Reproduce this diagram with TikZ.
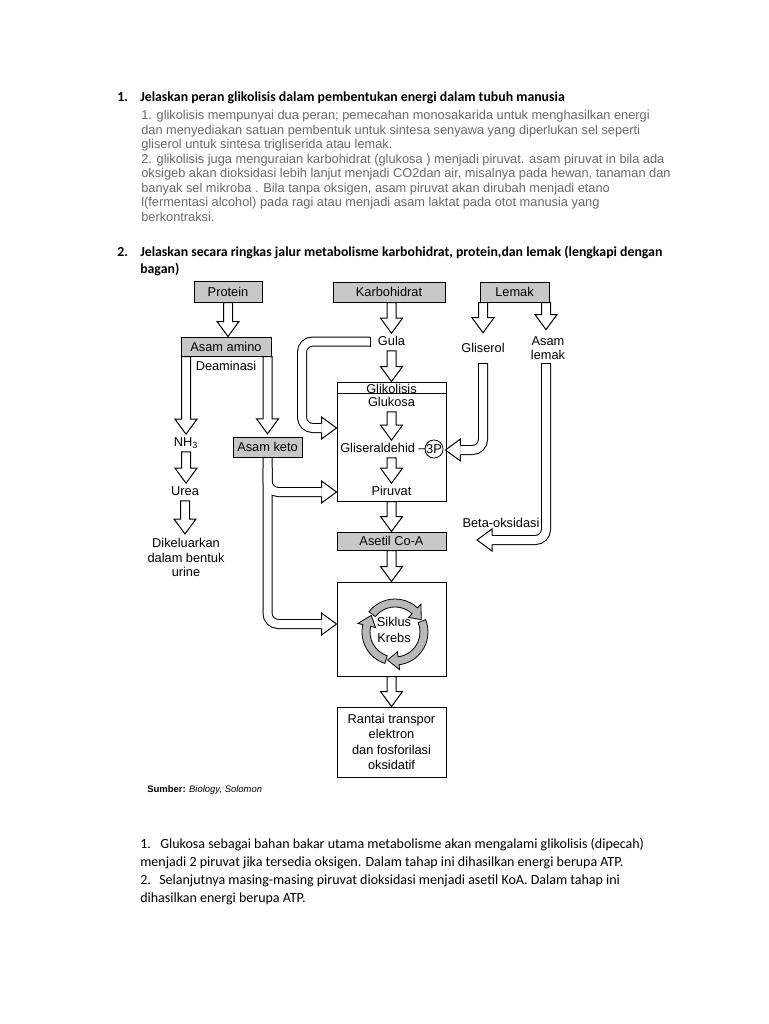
\documentclass[tikz,border=0pt]{standalone}
\usepackage{fontspec}
\setmainfont{Liberation Sans}
\newfontfamily\calfont{Carlito}
\usetikzlibrary{calc}
\pgfdeclarelayer{bg}
\pgfsetlayers{bg,main}
\definecolor{graytext}{RGB}{105,105,105}
\definecolor{boxgray}{RGB}{200,200,200}
\definecolor{ringgray}{RGB}{185,185,185}
\newcommand\parafont{\fontsize{9.6}{10.5}\selectfont}
\newcommand\hdfont{\calfont\bfseries\fontsize{10.35}{13}\selectfont}
\newcommand\bodyfont{\calfont\fontsize{10.5}{13}\selectfont}
\newcommand\labfont{\fontsize{9.6}{11}\selectfont}
% vertical hollow arrow: x and start y from #1, tip y from #2
\newcommand\vharrow[2]{%
  \filldraw[blockarrow] let \p1=#1, \p2=#2 in
   (\x1-3.375pt,\y1) -- (\x1-3.375pt,\y2+11.25pt) -- (\x1-8.25pt,\y2+11.25pt) -- (\x1,\y2)
   -- (\x1+8.25pt,\y2+11.25pt) -- (\x1+3.375pt,\y2+11.25pt) -- (\x1+3.375pt,\y1) -- cycle;}
% right pointing head with tip #1
\newcommand\rhead[1]{%
  \filldraw[blockarrow] let \p1=#1 in
   (\x1-11.25pt,\y1+3.375pt) -- (\x1-11.25pt,\y1+8.25pt) -- (\x1,\y1)
   -- (\x1-11.25pt,\y1-8.25pt) -- (\x1-11.25pt,\y1-3.375pt);}
% left pointing head with tip #1
\newcommand\lhead[1]{%
  \filldraw[blockarrow] let \p1=#1 in
   (\x1+11.25pt,\y1+3.375pt) -- (\x1+11.25pt,\y1+8.25pt) -- (\x1,\y1)
   -- (\x1+11.25pt,\y1-8.25pt) -- (\x1+11.25pt,\y1-3.375pt);}
\begin{document}
\begin{tikzpicture}[x=0.75pt,y=-0.75pt,
  blockarrow/.style={draw=black,fill=white,line width=0.75pt,line join=miter},
  gbox/.style={draw=black,fill=boxgray,line width=0.75pt,inner sep=0pt,font=\labfont},
  wbox/.style={draw=black,fill=white,line width=0.75pt,inner sep=0pt,font=\labfont},
  lbl/.style={inner xsep=0pt,inner ysep=1.9pt,font=\labfont,text height=7pt,text depth=2pt},
  mlbl/.style={inner sep=0pt,font=\labfont,align=center},
  para/.style={inner sep=0pt,anchor=base west,font=\parafont,text=graytext},
  hd/.style={inner sep=0pt,anchor=base west,font=\hdfont},
  body/.style={inner sep=0pt,anchor=base west,font=\bodyfont},
  bandout/.style={line width=7.5pt,rounded corners=8pt},
  bandin/.style={line width=6pt,white,rounded corners=8pt},
  ring/.style={fill=ringgray,draw=black,line width=0.6pt,line join=miter}]
\useasboundingbox (0,0) rectangle (768,1024);
\begin{pgfonlayer}{bg}
  \fill[white] (0,0) rectangle (768,1024);
\end{pgfonlayer}

% ---------- question 1 ----------
\node[hd] (q1n) at (117,101) {1.};
\node[hd] (q1) at (140,101) {Jelaskan peran glikolisis dalam pembentukan energi dalam tubuh manusia};
\node[para] (p1) at (141,119.5) {1. glikolisis mempunyai dua peran; pemecahan monosakarida untuk menghasilkan energi};
\node[para] (p2) at (141,134) {dan menyediakan satuan pembentuk untuk sintesa senyawa yang diperlukan sel seperti};
\node[para] (p3l) at (141,148.5) {gliserol untuk sintesa trigliserida atau lemak.};
\node[para] (p4) at (141,163) {2. glikolisis juga menguraian karbohidrat (glukosa ) menjadi piruvat. asam piruvat in bila ada};
\node[para] (p5) at (141,177.5) {oksigeb akan dioksidasi lebih lanjut menjadi CO2dan air, misalnya pada hewan, tanaman dan};
\node[para] (p6) at (141,192) {banyak sel mikroba . Bila tanpa oksigen, asam piruvat akan dirubah menjadi etano};
\node[para] (p7) at (141,206.5) {l(fermentasi alcohol) pada ragi atau menjadi asam laktat pada otot manusia yang};
\node[para] (p8) at (141,221) {berkontraksi.};

% ---------- question 2 ----------
\node[hd] (q2n) at (117,256) {2.};
\node[hd] (q2) at (140,256) {Jelaskan secara ringkas jalur metabolisme karbohidrat, protein,dan lemak (lengkapi dengan};
\node[hd] (q2b) at (140,273) {bagan)};

% ---------- diagram boxes ----------
\node[gbox,minimum width=51pt,minimum height=15.75pt] (protein) at (228,291.5) {Protein};
\node[gbox,minimum width=84pt,minimum height=15pt] (karbo) at (389,292) {Karbohidrat};
\node[gbox,minimum width=51.75pt,minimum height=15pt] (lemak) at (514.5,292) {Lemak};
\node[gbox,minimum width=67.5pt,minimum height=14.25pt] (amino) at (226,346.5) {Asam amino};
\node[gbox,minimum width=51.75pt,minimum height=15pt] (keto) at (267.5,447) {Asam keto};
\node[wbox,minimum width=81.75pt,minimum height=89.25pt] (glik) at (391.5,441.5) {};
\node[gbox,minimum width=81.75pt,minimum height=13.5pt] (asetil) at (391.5,541) {Asetil Co-A};
\node[wbox,minimum width=81.75pt,minimum height=70.5pt] (krebs) at (391.5,629) {};
\node[wbox,minimum width=81.75pt,minimum height=52.5pt,align=center,
      font=\fontsize{9.6}{11.6}\selectfont] (rantai) at (391.5,742)
      {Rantai transpor\\elektron\\dan fosforilasi\\oksidatif};
\draw[line width=0.75pt] ([yshift=-9pt]glik.north west) -- ([yshift=-9pt]glik.north east);

% ---------- Krebs ring ----------
\begin{scope}[shift={(395,632)}]
  \foreach \a/\b in {218/335,338/465,108/215}{
    \filldraw[ring] (\a:33) arc[start angle=\a,end angle=\b-22,radius=33]
      -- (\b-22:38) -- (\b:29) -- (\b-22:20) -- (\b-22:25)
      arc[start angle=\b-22,end angle=\a,radius=25] -- cycle;
  }
\end{scope}

% ---------- labels ----------
\node[lbl] (gula) at (391.5,342) {Gula};
\node[lbl] (gliserol) at (483,349) {Gliserol};
\node[mlbl,font=\fontsize{9.6}{10.5}\selectfont] (asamlemak) at (548,348) {Asam\\lemak};
\node[lbl] (deam) at (226,367) {Deaminasi};
\node[lbl] (nh3) at (186,443) {NH\textsubscript{3}};
\node[lbl] (urea) at (185,492) {Urea};
\node[mlbl,font=\fontsize{9.6}{10.9}\selectfont] (dikel) at (186,557.5) {Dikeluarkan\\dalam bentuk\\urine};
\node[inner sep=0pt,font=\labfont,anchor=base] (glikhd) at (391.5,393) {Glikolisis};
\node[lbl] (gluk) at (391.5,403) {Glukosa};
\node[lbl,anchor=west] (glis) at (340,449) {Gliseraldehid --};
\node[draw,circle,line width=0.6pt,minimum size=13.5pt,inner sep=0pt,font=\labfont] (p3) at (434,449) {3P};
\node[lbl] (piruvat) at (391.5,492) {Piruvat};
\node[lbl] (beta) at (501,524) {Beta-oksidasi};
\node[mlbl,font=\fontsize{9.6}{11.4}\selectfont] (kreb) at (394,630) {Siklus\\Krebs};
\coordinate (betatip) at (477,540);
\node[inner sep=0pt,anchor=base west,font=\fontsize{7.1}{8}\selectfont] (sumber) at (147,792)
  {\textbf{Sumber:} \textit{Biology, Solomon}};

% ---------- curved hollow connectors (background) ----------
\begin{pgfonlayer}{bg}
\foreach \st in {bandout,bandin}{
  \draw[\st] (370,341.5) -- (302,341.5) -- (302,428) -- ($(glik.west |- 0,428)+(-15,0)$);
  \draw[\st] (gliserol |- 0,363) -- (gliserol |- 0,450) -- ($(p3.east |- 0,450)+(17,0)$);
  \draw[\st] (546,363) -- (546,540) -- ($(betatip)+(15,0)$);
  \draw[\st] (keto.south) -- (keto.south |- 0,624) -- ($(krebs.west |- 0,624)+(-15,0)$);
  \draw[\st] ($(keto.south)+(0,10)$) -- (keto.south |- 0,492) -- ($(glik.west |- 0,492)+(-15,0)$);
}
\end{pgfonlayer}
\draw[line width=0.75pt] (370,336.5) -- (370,346.5);
\draw[line width=0.75pt] ($(gliserol |- 0,363)+(-5,0)$) -- ($(gliserol |- 0,363)+(5,0)$);
\draw[line width=0.75pt] (541,363) -- (551,363);
\rhead{(glik.west |- 0,428)}
\rhead{(glik.west |- 0,492)}
\rhead{(krebs.west |- 0,624)}
\lhead{($(p3.east |- 0,450)+(2,0)$)}
\lhead{(betatip)}

% ---------- straight hollow arrows ----------
\vharrow{(protein.south)}{(amino.north)}
\vharrow{(glik.north |- karbo.south)}{(gula.north)}
\vharrow{(gula.south)}{(glik.north)}
\vharrow{(gluk.south)}{(gluk |- glis.north)}
\vharrow{(gluk |- glis.south)}{(piruvat.north)}
\vharrow{(glik.south)}{(asetil.north)}
\vharrow{(asetil.south)}{(krebs.north)}
\vharrow{(krebs.south)}{(rantai.north)}
\vharrow{(amino.south -| nh3)}{(nh3.north)}
\vharrow{(amino.south -| keto)}{([yshift=2pt]keto.north)}
\vharrow{(nh3.south)}{(urea.north)}
\vharrow{(urea.south)}{([yshift=3pt]dikel.north)}
\vharrow{(lemak.south -| gliserol)}{([yshift=5.6pt]gliserol.north)}
\vharrow{(lemak.south -| 546,0)}{([yshift=5pt]asamlemak.north)}

% ---------- bottom text ----------
\node[body] (b1n) at (140,848) {1.};
\node[body] (b1) at (160,848) {Glukosa sebagai bahan bakar utama metabolisme akan mengalami glikolisis (dipecah)};
\node[body] (b2) at (140,866) {menjadi 2 piruvat jika tersedia oksigen. Dalam tahap ini dihasilkan energi berupa ATP.};
\node[body] (b3n) at (140,884) {2.};
\node[body] (b3) at (159,884) {Selanjutnya masing-masing piruvat dioksidasi menjadi asetil KoA. Dalam tahap ini};
\node[body] (b4) at (140,902) {dihasilkan energi berupa ATP.};
\end{tikzpicture}
\end{document}
